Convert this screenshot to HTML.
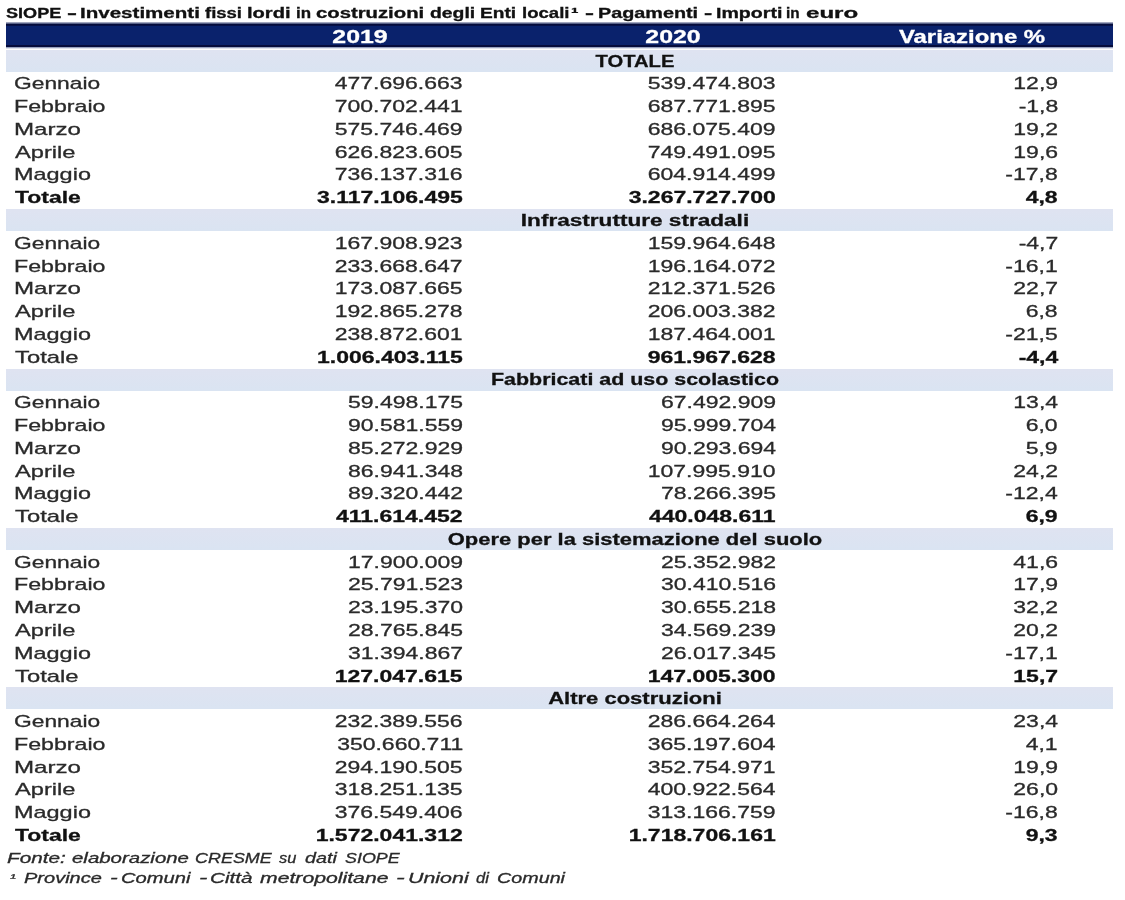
<!DOCTYPE html>
<html><head><meta charset="utf-8"><title>SIOPE</title>
<style>
html,body{margin:0;padding:0;background:#fff;overflow:hidden;}
body{width:1125px;height:900px;position:relative;overflow:hidden;font-family:"Liberation Sans",sans-serif;font-size:17.0px;color:#2a2a2a;}
.r{position:absolute;left:0;width:1125px;height:22.78px;line-height:22.78px;white-space:nowrap;}
.t{position:absolute;top:0;display:inline-block;transform:scaleX(1.3524);-webkit-text-stroke:0.3px currentColor;}
.l{transform-origin:0 50%;}
.rt{transform-origin:100% 50%;transform:scaleX(1.3524);}
.c{transform-origin:50% 50%;}
.b{font-weight:bold;color:#111;}
.band{position:absolute;left:6px;width:1107px;background:linear-gradient(#dfe3f1,#dae4f2);}
.hdr{position:absolute;left:6px;width:1107px;background:linear-gradient(#c5c9d9 0,#5a6388 1.5px,#050c3c 2.5px,#050c3c 3.3px,#0a226c 4.3px,#0a226c 22.6px,#050c3c 23.2px,#050c3c 24.8px,#98a2bf 25px,#98a2bf 26.3px,#fff 26.6px);}
.w{color:#fff;font-weight:bold;}
.i{font-style:italic;font-size:14px;transform:scaleX(1.405);}
.tr{transform:scaleX(1.3930);}
.nt{transform:scaleX(1.46);word-spacing:0.9px;}
.ttl{font-size:14px;transform:scaleX(1.417);}
#wrap{position:absolute;left:0;top:0;width:1125px;height:900px;overflow:hidden;filter:blur(0.6px);}
</style></head><body><div id="wrap">

<div class="r" style="top:2px"><span class="t l b ttl" style="left:6.38px;transform:scaleX(1.2923)">SIOPE</span><span class="t l b ttl" style="left:66.93px;transform:scaleX(2.1333)">-</span><span class="t l b ttl" style="left:80.20px;transform:scaleX(1.4675)">Investimenti</span><span class="t l b ttl" style="left:205.30px;transform:scaleX(1.3211)">fissi</span><span class="t l b ttl" style="left:246.92px;transform:scaleX(1.4365)">lordi</span><span class="t l b ttl" style="left:295.79px;transform:scaleX(1.2091)">in</span><span class="t l b ttl" style="left:315.98px;transform:scaleX(1.4485)">costruzioni</span><span class="t l b ttl" style="left:430.11px;transform:scaleX(1.3824)">degli</span><span class="t l b ttl" style="left:480.48px;transform:scaleX(1.3657)">Enti</span><span class="t l b ttl" style="left:522.31px;transform:scaleX(1.3255)">locali</span><span class="t l b ttl" style="left:571.19px;transform:scaleX(1.6250)">&#185;</span><span class="t l b ttl" style="left:584.54px;transform:scaleX(1.9200)">-</span><span class="t l b ttl" style="left:597.74px;transform:scaleX(1.4137)">Pagamenti</span><span class="t l b ttl" style="left:703.82px;transform:scaleX(1.7600)">-</span><span class="t l b ttl" style="left:715.65px;transform:scaleX(1.3989)">Importi</span><span class="t l b ttl" style="left:786.48px;transform:scaleX(1.0909)">in</span><span class="t l b ttl" style="left:806.44px;transform:scaleX(1.7186)">euro</span></div>
<div class="hdr" style="top:22px;height:26.6px"></div>
<div class="r" style="top:25.7px;font-size:17.8px"><span class="t c w" style="left:60px;width:600px;text-align:center;transform:scaleX(1.3980)">2019</span><span class="t c w" style="left:373px;width:600px;text-align:center;transform:scaleX(1.3980)">2020</span><span class="t c w" style="left:671.5px;width:600px;text-align:center;transform:scaleX(1.3445)">Variazione %</span></div>
<div class="band" style="top:50.00px;height:22px"></div>
<div class="r" style="top:50.50px"><span class="t c b" style="left:334.6px;width:600px;text-align:center;transform:scaleX(1.1864)">TOTALE</span></div>
<div class="r" style="top:73.28px"><span class="t l " style="left:14.49px;transform:scaleX(1.3413)">Gennaio</span><span class="t rt " style="right:662px">477.696.663</span><span class="t rt " style="right:349px">539.474.803</span><span class="t rt " style="right:67px">12,9</span></div>
<div class="r" style="top:96.06px"><span class="t l " style="left:13.80px;transform:scaleX(1.3640)">Febbraio</span><span class="t rt " style="right:662px">700.702.441</span><span class="t rt " style="right:349px">687.771.895</span><span class="t rt " style="right:67px">-1,8</span></div>
<div class="r" style="top:118.84px"><span class="t l " style="left:13.73px;transform:scaleX(1.4176)">Marzo</span><span class="t rt " style="right:662px">575.746.469</span><span class="t rt " style="right:349px">686.075.409</span><span class="t rt " style="right:67px">19,2</span></div>
<div class="r" style="top:141.62px"><span class="t l " style="left:15.00px;transform:scaleX(1.3918)">Aprile</span><span class="t rt " style="right:662px">626.823.605</span><span class="t rt " style="right:349px">749.491.095</span><span class="t rt " style="right:67px">19,6</span></div>
<div class="r" style="top:164.40px"><span class="t l " style="left:13.78px;transform:scaleX(1.3796)">Maggio</span><span class="t rt " style="right:662px">736.137.316</span><span class="t rt " style="right:349px">604.914.499</span><span class="t rt " style="right:67px">-17,8</span></div>
<div class="r" style="top:187.18px"><span class="t l b" style="left:14.60px;transform:scaleX(1.3485)">Totale</span><span class="t rt b" style="right:662px">3.117.106.495</span><span class="t rt b" style="right:349px">3.267.727.700</span><span class="t rt b" style="right:67px">4,8</span></div>
<div class="band" style="top:209.30px;height:22px"></div>
<div class="r" style="top:209.96px"><span class="t c b" style="left:334.6px;width:600px;text-align:center;transform:scaleX(1.3280)">Infrastrutture stradali</span></div>
<div class="r" style="top:232.74px"><span class="t l " style="left:14.49px;transform:scaleX(1.3413)">Gennaio</span><span class="t rt " style="right:662px">167.908.923</span><span class="t rt " style="right:349px">159.964.648</span><span class="t rt " style="right:67px">-4,7</span></div>
<div class="r" style="top:255.52px"><span class="t l " style="left:13.80px;transform:scaleX(1.3640)">Febbraio</span><span class="t rt " style="right:662px">233.668.647</span><span class="t rt " style="right:349px">196.164.072</span><span class="t rt " style="right:67px">-16,1</span></div>
<div class="r" style="top:278.30px"><span class="t l " style="left:13.73px;transform:scaleX(1.4176)">Marzo</span><span class="t rt " style="right:662px">173.087.665</span><span class="t rt " style="right:349px">212.371.526</span><span class="t rt " style="right:67px">22,7</span></div>
<div class="r" style="top:301.08px"><span class="t l " style="left:15.00px;transform:scaleX(1.3918)">Aprile</span><span class="t rt " style="right:662px">192.865.278</span><span class="t rt " style="right:349px">206.003.382</span><span class="t rt " style="right:67px">6,8</span></div>
<div class="r" style="top:323.86px"><span class="t l " style="left:13.78px;transform:scaleX(1.3796)">Maggio</span><span class="t rt " style="right:662px">238.872.601</span><span class="t rt " style="right:349px">187.464.001</span><span class="t rt " style="right:67px">-21,5</span></div>
<div class="r" style="top:346.64px"><span class="t l " style="left:15.15px;transform:scaleX(1.4000)">Totale</span><span class="t rt b" style="right:662px">1.006.403.115</span><span class="t rt b" style="right:349px">961.967.628</span><span class="t rt b" style="right:67px">-4,4</span></div>
<div class="band" style="top:368.60px;height:22px"></div>
<div class="r" style="top:369.42px"><span class="t c b" style="left:334.6px;width:600px;text-align:center;transform:scaleX(1.2596)">Fabbricati ad uso scolastico</span></div>
<div class="r" style="top:392.20px"><span class="t l " style="left:14.49px;transform:scaleX(1.3413)">Gennaio</span><span class="t rt " style="right:662px">59.498.175</span><span class="t rt " style="right:349px">67.492.909</span><span class="t rt " style="right:67px">13,4</span></div>
<div class="r" style="top:414.98px"><span class="t l " style="left:13.80px;transform:scaleX(1.3640)">Febbraio</span><span class="t rt " style="right:662px">90.581.559</span><span class="t rt " style="right:349px">95.999.704</span><span class="t rt " style="right:67px">6,0</span></div>
<div class="r" style="top:437.76px"><span class="t l " style="left:13.73px;transform:scaleX(1.4176)">Marzo</span><span class="t rt " style="right:662px">85.272.929</span><span class="t rt " style="right:349px">90.293.694</span><span class="t rt " style="right:67px">5,9</span></div>
<div class="r" style="top:460.54px"><span class="t l " style="left:15.00px;transform:scaleX(1.3918)">Aprile</span><span class="t rt " style="right:662px">86.941.348</span><span class="t rt " style="right:349px">107.995.910</span><span class="t rt " style="right:67px">24,2</span></div>
<div class="r" style="top:483.32px"><span class="t l " style="left:13.78px;transform:scaleX(1.3796)">Maggio</span><span class="t rt " style="right:662px">89.320.442</span><span class="t rt " style="right:349px">78.266.395</span><span class="t rt " style="right:67px">-12,4</span></div>
<div class="r" style="top:506.10px"><span class="t l " style="left:15.15px;transform:scaleX(1.4000)">Totale</span><span class="t rt b" style="right:662px">411.614.452</span><span class="t rt b" style="right:349px">440.048.611</span><span class="t rt b" style="right:67px">6,9</span></div>
<div class="band" style="top:527.90px;height:22px"></div>
<div class="r" style="top:528.88px"><span class="t c b" style="left:334.6px;width:600px;text-align:center;transform:scaleX(1.2909)">Opere per la sistemazione del suolo</span></div>
<div class="r" style="top:551.66px"><span class="t l " style="left:14.49px;transform:scaleX(1.3413)">Gennaio</span><span class="t rt " style="right:662px">17.900.009</span><span class="t rt " style="right:349px">25.352.982</span><span class="t rt " style="right:67px">41,6</span></div>
<div class="r" style="top:574.44px"><span class="t l " style="left:13.80px;transform:scaleX(1.3640)">Febbraio</span><span class="t rt " style="right:662px">25.791.523</span><span class="t rt " style="right:349px">30.410.516</span><span class="t rt " style="right:67px">17,9</span></div>
<div class="r" style="top:597.22px"><span class="t l " style="left:13.73px;transform:scaleX(1.4176)">Marzo</span><span class="t rt " style="right:662px">23.195.370</span><span class="t rt " style="right:349px">30.655.218</span><span class="t rt " style="right:67px">32,2</span></div>
<div class="r" style="top:620.00px"><span class="t l " style="left:15.00px;transform:scaleX(1.3918)">Aprile</span><span class="t rt " style="right:662px">28.765.845</span><span class="t rt " style="right:349px">34.569.239</span><span class="t rt " style="right:67px">20,2</span></div>
<div class="r" style="top:642.78px"><span class="t l " style="left:13.78px;transform:scaleX(1.3796)">Maggio</span><span class="t rt " style="right:662px">31.394.867</span><span class="t rt " style="right:349px">26.017.345</span><span class="t rt " style="right:67px">-17,1</span></div>
<div class="r" style="top:665.56px"><span class="t l " style="left:15.15px;transform:scaleX(1.4000)">Totale</span><span class="t rt b" style="right:662px">127.047.615</span><span class="t rt b" style="right:349px">147.005.300</span><span class="t rt b" style="right:67px">15,7</span></div>
<div class="band" style="top:687.20px;height:22px"></div>
<div class="r" style="top:688.34px"><span class="t c b" style="left:334.6px;width:600px;text-align:center;transform:scaleX(1.2938)">Altre costruzioni</span></div>
<div class="r" style="top:711.12px"><span class="t l " style="left:14.49px;transform:scaleX(1.3413)">Gennaio</span><span class="t rt " style="right:662px">232.389.556</span><span class="t rt " style="right:349px">286.664.264</span><span class="t rt " style="right:67px">23,4</span></div>
<div class="r" style="top:733.90px"><span class="t l " style="left:13.80px;transform:scaleX(1.3640)">Febbraio</span><span class="t rt " style="right:662px">350.660.711</span><span class="t rt " style="right:349px">365.197.604</span><span class="t rt " style="right:67px">4,1</span></div>
<div class="r" style="top:756.68px"><span class="t l " style="left:13.73px;transform:scaleX(1.4176)">Marzo</span><span class="t rt " style="right:662px">294.190.505</span><span class="t rt " style="right:349px">352.754.971</span><span class="t rt " style="right:67px">19,9</span></div>
<div class="r" style="top:779.46px"><span class="t l " style="left:15.00px;transform:scaleX(1.3918)">Aprile</span><span class="t rt " style="right:662px">318.251.135</span><span class="t rt " style="right:349px">400.922.564</span><span class="t rt " style="right:67px">26,0</span></div>
<div class="r" style="top:802.24px"><span class="t l " style="left:13.78px;transform:scaleX(1.3796)">Maggio</span><span class="t rt " style="right:662px">376.549.406</span><span class="t rt " style="right:349px">313.166.759</span><span class="t rt " style="right:67px">-16,8</span></div>
<div class="r" style="top:825.02px"><span class="t l b" style="left:14.60px;transform:scaleX(1.3485)">Totale</span><span class="t rt b" style="right:662px">1.572.041.312</span><span class="t rt b" style="right:349px">1.718.706.161</span><span class="t rt b" style="right:67px">9,3</span></div>
<div class="r" style="top:846.80px"><span class="t l i" style="left:7.13px;transform:scaleX(1.4821)">Fonte:</span><span class="t l i" style="left:71.64px;transform:scaleX(1.4591)">elaborazione</span><span class="t l i" style="left:195.36px;transform:scaleX(1.2820)">CRESME</span><span class="t l i" style="left:278.70px;transform:scaleX(1.1729)">su</span><span class="t l i" style="left:304.95px;transform:scaleX(1.4066)">dati</span><span class="t l i" style="left:344.98px;transform:scaleX(1.2795)">SIOPE</span></div>
<div class="r" style="top:867.28px"><span class="t l i" style="left:10.29px;transform:scaleX(1.6308)"><span style='font-size:10.5px;position:relative;top:-1.5px'>&#185;</span></span><span class="t l i" style="left:23.64px;transform:scaleX(1.4288)">Province</span><span class="t l i" style="left:109.88px;transform:scaleX(1.6500)">-</span><span class="t l i" style="left:120.58px;transform:scaleX(1.4383)">Comuni</span><span class="t l i" style="left:198.60px;transform:scaleX(1.8000)">-</span><span class="t l i" style="left:209.96px;transform:scaleX(1.4750)">Citt&agrave;</span><span class="t l i" style="left:260.00px;transform:scaleX(1.5148)">metropolitane</span><span class="t l i" style="left:396.36px;transform:scaleX(1.8750)">-</span><span class="t l i" style="left:407.77px;transform:scaleX(1.5287)">Unioni</span><span class="t l i" style="left:475.70px;transform:scaleX(1.1822)">di</span><span class="t l i" style="left:496.60px;transform:scaleX(1.4093)">Comuni</span></div>
</div></body></html>
